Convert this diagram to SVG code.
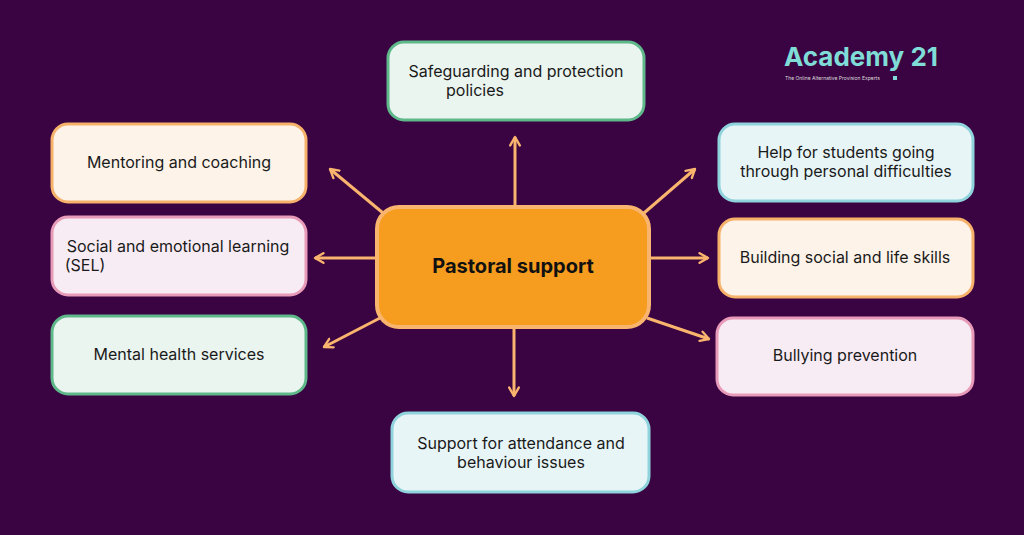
<svg xmlns="http://www.w3.org/2000/svg" width="1024" height="535" viewBox="0 0 1024 535">
<style>
.bx{stroke-width:3}
.g{fill:#eaf5ef;stroke:#5fb88a}
.o{fill:#fdf3e8;stroke:#f6b26b}
.p{fill:#f8ecf4;stroke:#e79bb8}
.b{fill:#e8f5f6;stroke:#8fd3dc}
.t{font-family:Inter,"Open Sans",sans-serif;font-size:16px;fill:#1a1a1a;text-anchor:middle}
.c line{stroke:#f9b46e;stroke-width:3;marker-end:url(#ah)}
</style>
<defs><marker id="ah" viewBox="0 0 10 10" refX="8" refY="5" markerWidth="4" markerHeight="4" orient="auto"><path d="M1,1 L8,5 L1,9" fill="none" stroke="#f9b46e" stroke-width="2" stroke-linecap="round" stroke-linejoin="round"/></marker></defs>
<rect width="1024" height="535" fill="#3a0341"/>
<g id="logo"><text x="861" y="66" font-family="Inter,sans-serif" font-weight="700" font-size="26" fill="#7fdcd6" text-anchor="middle">Academy 21</text>
<text x="785" y="80" font-family="Inter,sans-serif" font-size="5" fill="#ddd">The Online Alternative Provision Experts</text><rect x="893" y="76" width="4" height="4" fill="#7fdcd6"/></g>
<g class="c">
<line x1="515" y1="207" x2="515" y2="137"/>
<line x1="383" y1="213" x2="330" y2="169"/>
<line x1="376" y1="258" x2="315" y2="258"/>
<line x1="380" y1="318" x2="324" y2="347"/>
<line x1="514" y1="328" x2="514" y2="396"/>
<line x1="650" y1="258" x2="708" y2="258"/>
<line x1="644" y1="213" x2="695" y2="169"/>
<line x1="647" y1="318" x2="709" y2="339"/>
</g>
<g id="center"><rect x="377" y="207" width="272" height="120" rx="22" fill="#f69c1e" stroke="#f9b46e" stroke-width="4"/><text x="513" y="273" font-family="Inter,sans-serif" font-weight="700" font-size="20" text-anchor="middle" fill="#111">Pastoral support</text></g>
<g id="n1"><rect class="bx g" x="388" y="42" width="256" height="78" rx="16"/><text class="t" x="516" y="77">Safeguarding and protection</text><text class="t" x="475" y="96">policies</text></g>
<g id="n2"><rect class="bx o" x="52" y="124" width="254" height="78" rx="16"/><text class="t" x="179" y="168">Mentoring and coaching</text></g>
<g id="n3"><rect class="bx p" x="52" y="217" width="254" height="78" rx="16"/><text class="t" x="178" y="252">Social and emotional learning</text><text class="t" x="85" y="271">(SEL)</text></g>
<g id="n4"><rect class="bx g" x="52" y="316" width="254" height="78" rx="16"/><text class="t" x="179" y="360">Mental health services</text></g>
<g id="n5"><rect class="bx b" x="719" y="124" width="254" height="77" rx="16"/><text class="t" x="846" y="158">Help for students going</text><text class="t" x="846" y="177">through personal difficulties</text></g>
<g id="n6"><rect class="bx o" x="719" y="219" width="254" height="78" rx="16"/><text class="t" x="845" y="263">Building social and life skills</text></g>
<g id="n7"><rect class="bx p" x="717" y="318" width="256" height="77" rx="16"/><text class="t" x="845" y="361">Bullying prevention</text></g>
<g id="n8"><rect class="bx b" x="392" y="413" width="257" height="79" rx="16"/><text class="t" x="521" y="449">Support for attendance and</text><text class="t" x="521" y="468">behaviour issues</text></g>
</svg>
